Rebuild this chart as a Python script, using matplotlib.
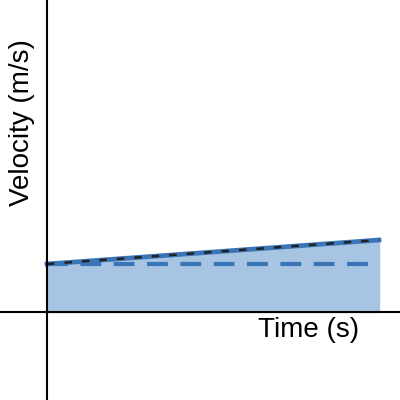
import matplotlib
matplotlib.use("Agg")
import matplotlib.pyplot as plt

t = [0.0, 1.0]
v_actual = [1.0, 1.5]
v_const = [1.0, 1.0]

fig = plt.figure(figsize=(4, 4), dpi=100)
ax = fig.add_axes([0, 0, 1, 1])
ax.set_xlim(-47/332, 353/332)
ax.set_ylim(-88/48, 312/48)
ax.axis('off')

ax.fill_between(t, 0, v_actual, color='#a7c4e2', zorder=1)
ax.plot(t, v_const, color='#3a75b8', lw=3.0, ls=(0, (5, 3)), zorder=2)
ax.plot(t, v_actual, color='#3a75b8', lw=3.4, zorder=3)
ax.plot(t, v_actual, color='#222222', lw=1.8, ls=(0, (3, 4)), zorder=4)

ax.axhline(0, color='black', lw=1.5, zorder=5)
ax.axvline(0, color='black', lw=1.5, zorder=5)

ax.text((309-47)/332, -18/48, 'Time (s)', fontsize=20, ha='center', va='center', family='Liberation Sans')
ax.text(-25/332, (312-123)/48, 'Velocity (m/s)', fontsize=20, rotation=90, ha='center', va='center', family='Liberation Sans')

fig.savefig('out.png', dpi=100)
